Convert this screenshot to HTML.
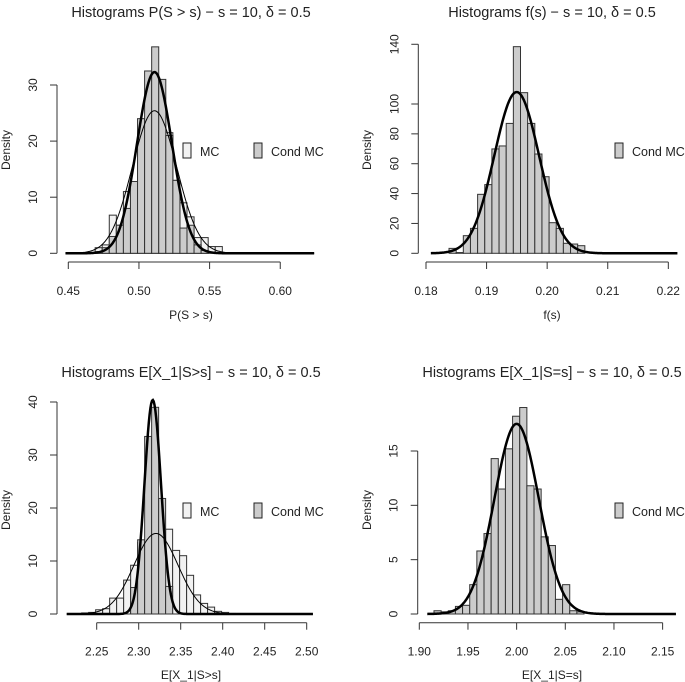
<!DOCTYPE html>
<html><head><meta charset="utf-8"><style>
body{margin:0;background:#fff}
svg{display:block;font-family:"Liberation Sans",Arial,sans-serif}
</style></head><body>
<svg id="fig" width="685" height="682" viewBox="0 0 685 682" xmlns="http://www.w3.org/2000/svg"></svg>
<script>
// ---- Panel 1: P(S>s)
const p1BinStart = 0.469, p1BinWidth = 0.005;
const p1MC   = [1, 1.5, 6.8, 5, 11, 12.5, 19.5, 24, 30.5, 26, 21.5, 13, 9, 6.5, 2.8, 2.8, 1.2, 1.2];
const p1Cond = [0.3, 1, 3, 5, 8, 12.8, 24, 32.5, 36.8, 31, 21, 13, 4.5, 5, 1.5, 0.5, 0, 0];
const p1Mean = [0.511, 0.511], p1Sd = [0.0157, 0.01235];
const p1XTicks = [0.45, 0.50, 0.55, 0.60], p1XLab = ["0.45","0.50","0.55","0.60"];
const p1YTicks = [0, 10, 20, 30];
// ---- Panel 2: f(s)
const p2BinStart = 0.1838, p2BinWidth = 0.00118;
const p2Cond = [3.3, 0.5, 11.8, 16.7, 39.5, 46, 69.9, 71.9, 87, 138.4, 107.6, 87, 66.5, 51.3, 20.5, 16.7, 6.7, 6.2, 5.1];
const p2Mean = [0.19497], p2Sd = [0.003694];
const p2XTicks = [0.18, 0.19, 0.20, 0.21, 0.22], p2XLab = ["0.18","0.19","0.20","0.21","0.22"];
const p2YTicks = [0, 20, 40, 60, 80, 100, 140];
// ---- Panel 3: E[X_1|S>s]
const p3BinStart = 2.2321, p3BinWidth = 0.00833;
const p3MC   = [0.2, 0.3, 0.8, 1, 3, 3, 6.4, 9.2, 13.5, 13.5, 15.5, 15, 16, 12, 11, 7.3, 3.6, 2, 1.3, 0.5, 0.3, 0.1];
const p3Cond = [0, 0, 0, 0, 0, 0, 0, 5, 14, 33.5, 39, 21.8, 5.2, 0, 0, 0, 0, 0, 0, 0, 0, 0];
const p3Mean = [2.3206, 2.3167], p3Sd = [0.02625, 0.00988];
const p3XTicks = [2.25, 2.30, 2.35, 2.40, 2.45, 2.50], p3XLab = ["2.25","2.30","2.35","2.40","2.45","2.50"];
const p3YTicks = [0, 10, 20, 30, 40];
// ---- Panel 4: E[X_1|S=s]
const p4BinStart = 1.9151, p4BinWidth = 0.00734;
const p4Cond = [0.3, 0.2, 0.3, 0.7, 0.8, 2.7, 5.8, 7.4, 14.3, 11.5, 15.2, 18.2, 19.0, 11.8, 11.5, 7.1, 6.3, 1.35, 2.7, 0.3, 0.2];
const p4Mean = [2.0], p4Sd = [0.0228];
const p4XTicks = [1.90, 1.95, 2.00, 2.05, 2.10, 2.15], p4XLab = ["1.90","1.95","2.00","2.05","2.10","2.15"];
const p4YTicks = [0, 5, 10, 15];

const NS = "http://www.w3.org/2000/svg";
const svg = document.getElementById('fig');
function mk(tag, attrs, parent){const e=document.createElementNS(NS,tag);for(const k in attrs)e.setAttribute(k,attrs[k]);(parent||svg).appendChild(e);return e;}

function panel(cfg){
  const g = mk('g', {});
  
  
  const X = v => cfg.x0px + (v - cfg.x0v) * cfg.xs;
  const Y = d => cfg.y0px - d * cfg.ys;
  cfg.hists.forEach(h => {
    h.vals.forEach((d, i) => {
      if (d <= 0) return;
      const a = h.start + i * h.w;
      const r = mk('rect', {x: X(a), y: Y(d), width: X(a + h.w) - X(a), height: Y(0) - Y(d), fill: h.fill, stroke: '#333', 'stroke-width': 1}, g);
      
      
    });
  });
  cfg.curves.forEach(c => {
    let pts = [];
    for (let k = 0; k <= 300; k++) {
      const v = cfg.cx0 + (cfg.cx1 - cfg.cx0) * k / 300;
      const d = Math.exp(-0.5 * Math.pow((v - c.m) / c.s, 2)) / (c.s * Math.sqrt(2 * Math.PI));
      pts.push(X(v).toFixed(2) + ',' + Y(d).toFixed(2));
    }
    const p = mk('polyline', {points: pts.join(' '), fill: 'none', stroke: '#000', 'stroke-width': c.lw}, g);
    
    
  });
  const xa = mk('g', {}, g);
  
  
  const t0 = cfg.xt[0], t1 = cfg.xt[cfg.xt.length - 1];
  mk('line', {x1: X(t0), x2: X(t1), y1: cfg.xaxY, y2: cfg.xaxY, stroke: '#333'}, xa);
  cfg.xt.forEach((t, i) => {
    mk('line', {x1: X(t), x2: X(t), y1: cfg.xaxY, y2: cfg.xaxY + 7, stroke: '#333'}, xa);
    const tx = mk('text', {x: X(t), y: cfg.xaxY + 33, 'font-size': 12, 'text-anchor': 'middle', fill: '#222'}, xa);
    tx.textContent = cfg.xl[i];
    
    
  });
  const ya = mk('g', {}, g);
  
  
  const yt0 = cfg.yt[0], yt1 = cfg.yt[cfg.yt.length - 1];
  mk('line', {x1: cfg.yaxX, x2: cfg.yaxX, y1: Y(yt0), y2: Y(yt1), stroke: '#333'}, ya);
  cfg.yt.forEach(t => {
    mk('line', {x1: cfg.yaxX - 7, x2: cfg.yaxX, y1: Y(t), y2: Y(t), stroke: '#333'}, ya);
    const tx = mk('text', {x: 0, y: 0, 'font-size': 12, 'text-anchor': 'middle', fill: '#222', transform: `translate(${cfg.yaxX - 20},${Y(t)}) rotate(-90)`}, ya);
    tx.textContent = String(t);
    
    
  });
  const ti = mk('text', {x: cfg.tx, y: cfg.ty, 'font-size': 14.5, 'text-anchor': 'middle', fill: '#222'}, g);
  ti.textContent = cfg.title;
  
  
  const xl = mk('text', {x: cfg.tx, y: cfg.xly, 'font-size': 12, 'text-anchor': 'middle', fill: '#222'}, g);
  xl.textContent = cfg.xlabel;
  
  
  const yl = mk('text', {x: 0, y: 0, 'font-size': 12, 'text-anchor': 'middle', fill: '#222', transform: `translate(${cfg.ylx},${cfg.yly}) rotate(-90)`}, g);
  yl.textContent = 'Density';
  
  
  cfg.legend.forEach(L => {
    const lg = mk('g', {}, g);
    
    
    mk('rect', {x: L.x, y: L.y, width: 8, height: 15, fill: L.fill, stroke: '#222'}, lg);
    const t = mk('text', {x: L.x + 17, y: L.y + 13, 'font-size': 12.5, fill: '#222'}, lg);
    t.textContent = L.label;
  });
}

panel({name:'panel-p-s-greater', x0px:68.3, x0v:0.45, xs:1413, y0px:253.3, ys:5.61,
  hists:[{id:'mc',start:p1BinStart,w:p1BinWidth,vals:p1MC,fill:'#f2f2f2'},{id:'cond-mc',start:p1BinStart,w:p1BinWidth,vals:p1Cond,fill:'#cccccc'}],
  curves:[{id:'mc-density-curve',m:p1Mean[0],s:p1Sd[0],lw:1},{id:'cond-mc-density-curve',m:p1Mean[1],s:p1Sd[1],lw:2.5}],
  cx0:0.448, cx1:0.624, xt:p1XTicks, xl:p1XLab, yt:p1YTicks, xaxY:262, yaxX:57,
  title:'Histograms P(S > s) \u2212 s = 10, \u03b4 = 0.5', tx:191, ty:17, xlabel:'P(S > s)', xly:319, ylx:10, yly:150,
  legend:[{x:183,y:143,fill:'#f2f2f2',label:'MC'},{x:254,y:143,fill:'#cccccc',label:'Cond MC'}]});

panel({name:'panel-f-s', x0px:426, x0v:0.18, xs:6058, y0px:253.3, ys:1.493,
  hists:[{id:'cond-mc',start:p2BinStart,w:p2BinWidth,vals:p2Cond,fill:'#cccccc'}],
  curves:[{id:'cond-mc-density-curve',m:p2Mean[0],s:p2Sd[0],lw:2.5}],
  cx0:0.1808, cx1:0.2215, xt:p2XTicks, xl:p2XLab, yt:p2YTicks, xaxY:262, yaxX:418.3,
  title:'Histograms f(s) \u2212 s = 10, \u03b4 = 0.5', tx:552, ty:17, xlabel:'f(s)', xly:319, ylx:371, yly:150,
  legend:[{x:615,y:143,fill:'#cccccc',label:'Cond MC'}]});

panel({name:'panel-e-x1-s-greater', x0px:96.7, x0v:2.25, xs:840, y0px:614, ys:5.3,
  hists:[{id:'mc',start:p3BinStart,w:p3BinWidth,vals:p3MC,fill:'#f2f2f2'},{id:'cond-mc',start:p3BinStart,w:p3BinWidth,vals:p3Cond,fill:'#cccccc'}],
  curves:[{id:'mc-density-curve',m:p3Mean[0],s:p3Sd[0],lw:1},{id:'cond-mc-density-curve',m:p3Mean[1],s:p3Sd[1],lw:2.5}],
  cx0:2.2143, cx1:2.5074, xt:p3XTicks, xl:p3XLab, yt:p3YTicks, xaxY:622.7, yaxX:57,
  title:'Histograms E[X_1|S>s] \u2212 s = 10, \u03b4 = 0.5', tx:191, ty:377, xlabel:'E[X_1|S>s]', xly:679, ylx:10, yly:510,
  legend:[{x:183,y:503,fill:'#f2f2f2',label:'MC'},{x:254,y:503,fill:'#cccccc',label:'Cond MC'}]});

panel({name:'panel-e-x1-s-equal', x0px:419.3, x0v:1.90, xs:973.3, y0px:614, ys:10.867,
  hists:[{id:'cond-mc',start:p4BinStart,w:p4BinWidth,vals:p4Cond,fill:'#cccccc'}],
  curves:[{id:'cond-mc-density-curve',m:p4Mean[0],s:p4Sd[0],lw:2.5}],
  cx0:1.9082, cx1:2.1637, xt:p4XTicks, xl:p4XLab, yt:p4YTicks, xaxY:622.7, yaxX:417.7,
  title:'Histograms E[X_1|S=s] \u2212 s = 10, \u03b4 = 0.5', tx:552, ty:377, xlabel:'E[X_1|S=s]', xly:679, ylx:371, yly:510,
  legend:[{x:615,y:503,fill:'#cccccc',label:'Cond MC'}]});
</script>
</body></html>
